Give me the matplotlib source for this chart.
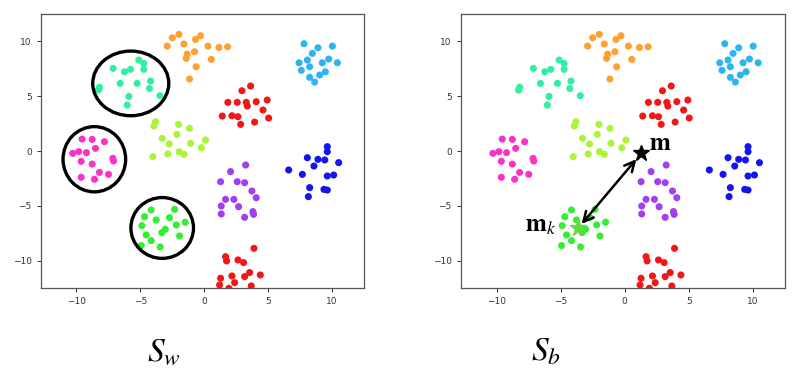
import numpy as np
import matplotlib
matplotlib.use("Agg")
import matplotlib.pyplot as plt
from matplotlib.patches import Ellipse

plt.rcParams['mathtext.fontset'] = 'stix'

# cluster points (same embedding in both panels)
orange_x = [-2.9, -2.5, -1.98, -1.59, -1.33, -1.41, -0.76, -0.63, -1.15, -0.68, -0.29, 0.29, 0.55, 1.15, 1.83]
orange_y = [9.57, 10.33, 10.64, 9.76, 8.84, 8.45, 9.06, 7.69, 6.57, 10.18, 10.52, 9.57, 8.36, 9.45, 9.51]

sky_x = [7.81, 10.03, 8.90, 8.46, 7.42, 8.07, 8.25, 7.60, 9.24, 9.74, 10.42, 9.48, 9.03, 8.25, 8.64]
sky_y = [9.79, 9.57, 9.42, 8.91, 8.05, 8.30, 7.69, 7.36, 8.05, 8.39, 8.05, 7.23, 6.93, 6.72, 6.29]

aqua_x = [-7.13, -6.24, -5.77, -5.12, -4.73, -4.73, -4.20, -4.28, -5.25, -6.58, -8.20, -8.28, -5.90, -6.03, -3.47]
aqua_y = [7.54, 7.23, 7.45, 8.30, 7.99, 7.45, 6.38, 5.71, 6.17, 6.17, 5.81, 5.56, 4.98, 4.19, 5.05]

red1_x = [2.95, 3.63, 1.85, 2.58, 3.29, 3.37, 4.07, 4.93, 4.60, 1.41, 2.17, 2.64, 2.85, 3.94, 5.04]
red1_y = [5.50, 5.93, 4.44, 4.44, 4.44, 4.10, 4.50, 4.65, 3.74, 3.19, 3.22, 3.13, 2.43, 2.64, 3.01]

lime_x = [-3.81, -3.94, -2.01, -1.15, -3.29, -2.14, -2.74, 0.10, -1.07, -0.23, -1.96, -1.59, -2.85, -4.02]
lime_y = [2.67, 2.28, 2.43, 2.07, 1.16, 1.52, 0.64, 1.00, 0.70, 0.30, -0.06, -0.30, -0.27, -0.52]

pink_x = [-9.56, -8.77, -7.81, -8.51, -10.29, -9.82, -9.22, -9.63, -8.77, -7.15, -7.10, -8.20, -7.49, -9.63, -8.59]
pink_y = [1.09, 1.06, 0.85, 0.24, -0.21, -0.06, -0.15, -0.94, -1.19, -0.67, -0.91, -1.95, -2.13, -2.40, -2.58]

blue_x = [9.63, 9.63, 8.07, 8.90, 9.43, 8.59, 10.52, 6.61, 7.68, 9.63, 10.13, 8.25, 9.37, 9.63, 8.15]
blue_y = [0.40, -0.06, -0.61, -0.76, -0.82, -1.37, -1.06, -1.73, -2.13, -2.28, -2.19, -3.34, -3.50, -3.56, -4.16]

purple_x = [3.24, 2.06, 1.28, 2.58, 3.16, 3.73, 4.07, 1.67, 2.32, 1.33, 2.69, 1.33, 3.81, 3.86, 3.16]
purple_y = [-1.28, -1.88, -2.80, -2.80, -2.89, -3.65, -4.26, -4.41, -4.41, -5.02, -5.08, -5.74, -5.53, -5.78, -6.05]

green_x = [-4.15, -2.32, -4.67, -2.72, -3.76, -1.49, -4.88, -2.19, -3.05, -3.32, -4.54, -1.93, -4.15, -4.93, -3.45]
green_y = [-5.38, -5.32, -5.99, -6.08, -6.29, -6.50, -6.81, -6.75, -7.14, -7.45, -7.66, -7.75, -8.18, -8.63, -8.75]

red2_x = [3.89, 1.67, 1.75, 2.64, 3.08, 2.17, 3.16, 1.28, 3.55, 4.39, 1.20, 2.38, 1.93, 3.68]
red2_y = [-8.88, -9.64, -10.03, -9.94, -10.18, -11.40, -11.46, -11.61, -11.09, -11.31, -12.22, -12.01, -12.52, -12.31]

clusters = [
    (orange_x, orange_y, '#ffa030'),
    (sky_x, sky_y, '#2fb4f2'),
    (aqua_x, aqua_y, '#2ff0a0'),
    (red1_x, red1_y, '#f21616'),
    (lime_x, lime_y, '#a8f53a'),
    (pink_x, pink_y, '#fa32c8'),
    (blue_x, blue_y, '#1414ee'),
    (purple_x, purple_y, '#a040ee'),
    (green_x, green_y, '#33ee33'),
    (red2_x, red2_y, '#f21616'),
]

# within-class circles: center x, center y, width, height
circles = [(-5.75, 6.17, 5.95, 5.9), (-8.6, -0.75, 4.9, 5.95), (-3.29, -7.02, 4.9, 5.55)]

m_total = (1.29, -0.21)
m_green = (-3.61, -7.05)

fig = plt.figure(figsize=(8.07, 3.83), dpi=100)
ax1 = fig.add_axes([0.0504, 0.248, 0.4006, 0.7154])
ax2 = fig.add_axes([0.5709, 0.248, 0.4016, 0.7154])

for ax in (ax1, ax2):
    for xs, ys, c in clusters:
        ax.scatter(xs, ys, s=26, color=c, edgecolors='none', zorder=2)
    ax.set_xlim(-12.8, 12.5)
    ax.set_ylim(-12.5, 12.5)
    ax.set_xticks([-10, -5, 0, 5, 10])
    ax.set_yticks([-10, -5, 0, 5, 10])
    ax.tick_params(labelsize=6.5, colors='#333333', length=3, width=0.7)
    for sp in ax.spines.values():
        sp.set_color('#555555')
        sp.set_linewidth(0.9)

for cx, cy, w, h in circles:
    ax1.add_patch(Ellipse((cx, cy), w, h, fill=False, ec='black', lw=2.4, zorder=3))

ax2.plot(*m_total, marker='*', color='black', markersize=12, zorder=4)
ax2.plot(*m_green, marker='*', color='#66d84a', markersize=12, zorder=4)
ax2.annotate('', xy=(-3.5, -6.85), xytext=(1.05, -0.55),
             arrowprops=dict(arrowstyle='<->', lw=1.8, color='black', mutation_scale=18),
             zorder=5)
ax2.text(1.88, 0.1, r'$\mathbf{m}$', fontsize=18, ha='left', va='baseline')
ax2.text(-7.8, -7.4, r'$\mathbf{m}_k$', fontsize=18, ha='left', va='baseline')

fig.text(0.203, 0.06, r'$S_w$', fontsize=24, ha='center', va='baseline')
fig.text(0.677, 0.06, r'$S_b$', fontsize=24, ha='center', va='baseline')

fig.savefig('out.png', dpi=100)
